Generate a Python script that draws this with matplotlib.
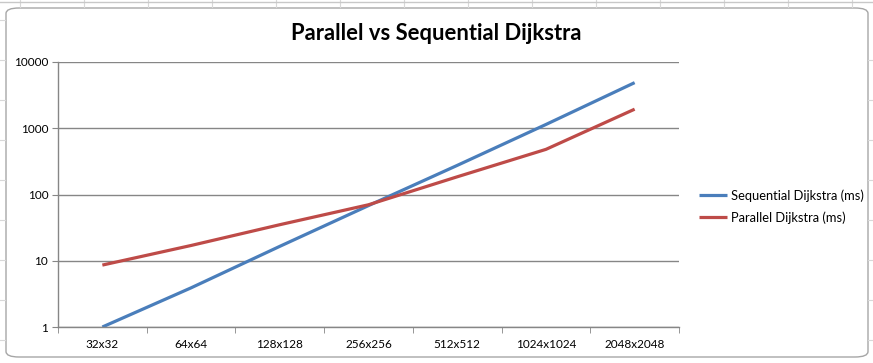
import matplotlib
matplotlib.use("Agg")
import matplotlib.pyplot as plt
from matplotlib.patches import FancyBboxPatch
from matplotlib.lines import Line2D

categories = ["32x32", "64x64", "128x128", "256x256", "512x512", "1024x1024", "2048x2048"]
sequential = [1.0, 3.9, 16.5, 68, 275, 1140, 4880]
parallel = [8.6, 17, 35, 70, 185, 480, 1940]
y_ticks = [1, 10, 100, 1000, 10000]
y_tick_labels = ["1", "10", "100", "1000", "10000"]

W, H = 873, 363
fig = plt.figure(figsize=(W / 100, H / 100), dpi=100)
fig.patch.set_facecolor("white")
FONT = "Lato"

# spreadsheet cell lines behind chart
for k in range(14):
    x = 20 + 64 * k
    fig.add_artist(Line2D([x / W, x / W], [1, 1 - 7 / H], color="#D8D8D8", lw=0.8))
for y in [60, 100, 140, 180, 220, 260, 300, 340]:
    fig.add_artist(Line2D([868 / W, 1], [1 - y / H, 1 - y / H], color="#D8D8D8", lw=0.8))
for y in [20, 60, 100, 140, 180, 220, 260, 300, 340]:
    fig.add_artist(Line2D([0, 5 / W], [1 - y / H, 1 - y / H], color="#D8D8D8", lw=0.8))
fig.add_artist(Line2D([0, 1], [1 - 2 / H, 1 - 2 / H], color="#C8C8C8", lw=1.0))

# chart border
box = FancyBboxPatch((6 / W, 6 / H), (868 - 6) / W, (357 - 8) / H,
                     boxstyle="round,pad=0,rounding_size=0.015",
                     transform=fig.transFigure, facecolor="white",
                     edgecolor="#A6A6A6", lw=1.0, zorder=0)
fig.add_artist(box)

left, right, top, bottom = 58 / W, 679 / W, 62 / H, 327 / H
ax = fig.add_axes([left, 1 - bottom, right - left, (bottom - top)])
ax.set_facecolor("none")

x = list(range(len(categories)))
ax.plot(x, sequential, color="#4A7EBB", lw=2.3, label="Sequential Dijkstra (ms)", solid_capstyle="butt")
ax.plot(x, parallel, color="#BE4B48", lw=2.3, label="Parallel Dijkstra (ms)", solid_capstyle="butt")

ax.set_yscale("log")
ax.set_ylim(1, 10000)
ax.set_xlim(-0.5, len(categories) - 0.5)
ax.set_yticks(y_ticks)
ax.set_yticklabels(y_tick_labels, fontsize=8.5, family=FONT)
ax.yaxis.set_minor_locator(matplotlib.ticker.NullLocator())
ax.set_xticks(x)
ax.set_xticklabels(categories, fontsize=8.5, family=FONT)
ax.set_xticks([i - 0.5 for i in range(len(categories) + 1)], minor=True)
ax.tick_params(axis="x", which="major", length=0, pad=9)
ax.tick_params(axis="x", which="minor", length=4, color="#868686", direction="out")
ax.tick_params(axis="y", which="major", length=4, color="#868686", pad=3)
ax.grid(axis="y", color="#868686", lw=1.0)
ax.set_axisbelow(True)
for s in ["top", "right"]:
    ax.spines[s].set_visible(False)
for s in ["left", "bottom"]:
    ax.spines[s].set_color("#868686")
    ax.spines[s].set_linewidth(1.0)

fig.text(0.5, 1 - 33 / H, "Parallel vs Sequential Dijkstra", ha="center", va="center",
         fontsize=15.8, fontweight="bold", family=FONT)

leg = ax.legend(loc="center left", bbox_to_anchor=(1.013, 0.455), frameon=False,
                prop={"family": FONT, "size": 9.3}, handlelength=2.2, handletextpad=0.3,
                labelspacing=0.75)

fig.savefig("out.png", dpi=100)
